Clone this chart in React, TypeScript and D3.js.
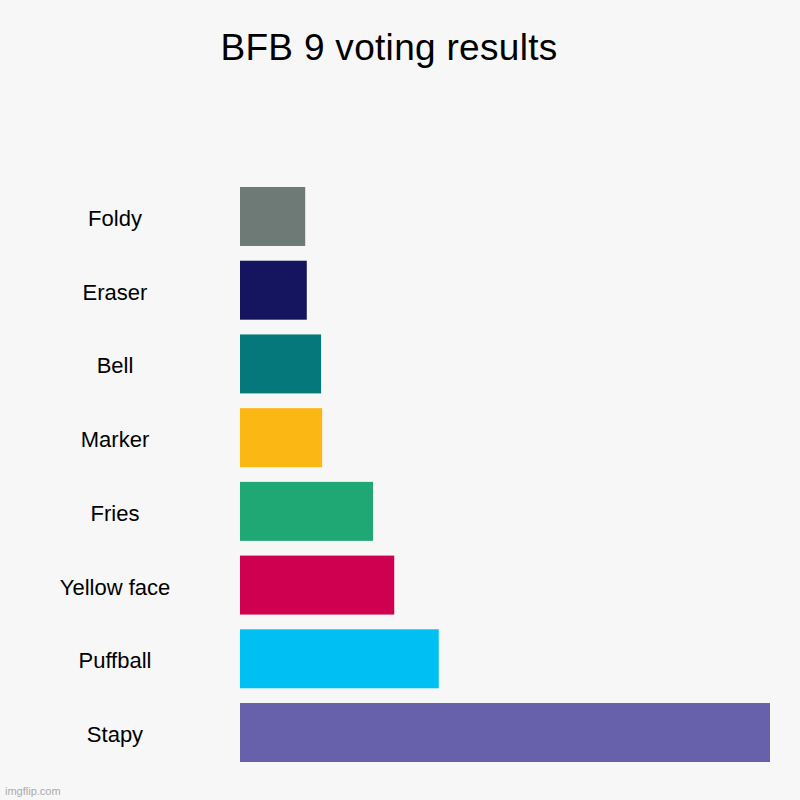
import React from "react";
import * as d3 from "d3";

const categories = ["Foldy", "Eraser", "Bell", "Marker", "Fries", "Yellow face", "Puffball", "Stapy"];
const votes = [12.3, 12.6, 15.3, 15.5, 25.1, 29.1, 37.5, 100];
const colors = ["#6d7a75", "#15145e", "#05787c", "#fbb714", "#1fa774", "#cf004f", "#00bff3", "#6661aa"];
const title = "BFB 9 voting results";

export default function App() {
  const W = 800, H = 800;
  const x = d3.scaleLinear().domain([0, d3.max(votes) as number]).range([240, 770]);
  const y = d3.scaleBand<string>().domain(categories).range([187, 762]).paddingInner(0.2).paddingOuter(0);
  const font = "'Liberation Sans', Arial, sans-serif";
  return (
    <svg width={W} height={H} style={{ position: "absolute", left: 0, top: 0, display: "block" }}>
      <rect x={0} y={0} width={W} height={H} fill="#f7f7f7" />
      <text x={389} y={60} textAnchor="middle" fontFamily={font} fontSize={37} letterSpacing={0.3} fill="#000">{title}</text>
      {categories.map((c, i) => (
        <g key={c}>
          <rect x={x(0)} y={y(c)} width={x(votes[i]) - x(0)} height={y.bandwidth()} fill={colors[i]} />
          <text x={115} y={(y(c) as number) + y.bandwidth() / 2} dy="0.43em" textAnchor="middle" fontFamily={font} fontSize={22} fill="#000">{c}</text>
        </g>
      ))}
      <text x={5} y={795} fontFamily={font} fontSize={11} fill="#aaaaaa">imgflip.com</text>
    </svg>
  );
}
